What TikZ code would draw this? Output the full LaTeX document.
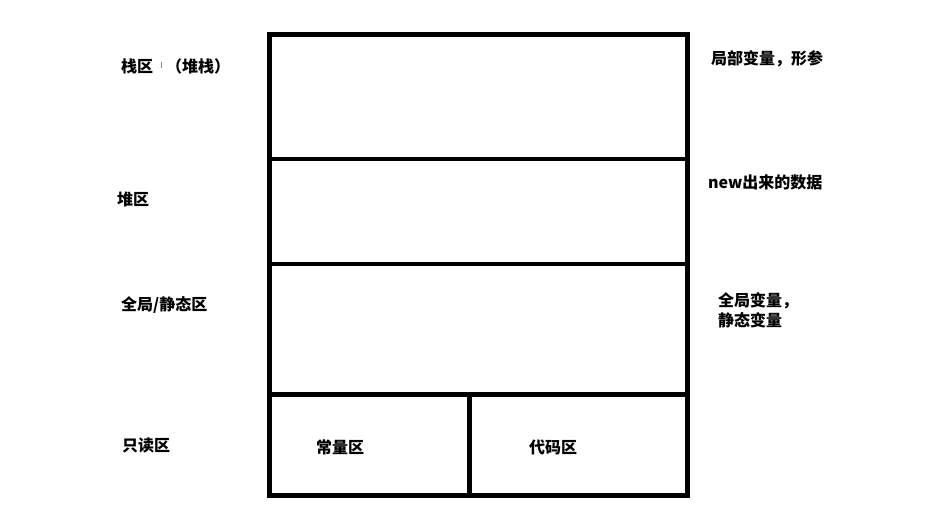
\documentclass[tikz,border=0pt]{standalone}
\usepackage{fontspec}
\setmainfont{Noto Sans CJK SC}
\begin{document}
\begin{tikzpicture}[x=1pt,y=-1pt,
  lbl/.style={inner sep=0pt, anchor=west, font=\fontsize{16}{20.5}\selectfont\bfseries},
  ctr/.style={inner sep=0pt, anchor=center, font=\fontsize{16}{20.5}\selectfont\bfseries},
  wall/.style={line width=4.4pt, line cap=rect}]
\useasboundingbox (0,0) rectangle (926,528);
% frame corners and dividers
\coordinate (tl) at (269.5,34.5);
\coordinate (br) at (687.5,495.5);
\coordinate (l1) at (269.5,159);   \coordinate (r1) at (687.5,159);
\coordinate (l2) at (269.5,264);   \coordinate (r2) at (684.5,264);
\coordinate (l3) at (269.5,394.5); \coordinate (r3) at (687.5,394.5);
\coordinate (dt) at (469.5,394.5); \coordinate (db) at (469.5,497.5);
\draw[wall] (tl) rectangle (br);
\draw[wall] (l1) -- (r1);
\draw[wall] (l2) -- (r2);
\draw[wall] (l3) -- (r3);
\draw[wall, line cap=butt] (dt) -- (db);
% left labels
\node[lbl] (stack) at (121,66) {栈区};
\coordinate (tk1) at (161,62); \coordinate (tk2) at (161,67.5);
\draw[gray, line width=1pt] (tk1) -- (tk2);
\node[lbl] (stackalt) at (166,66) {（堆栈）};
\node[lbl] (heap) at (117,199) {堆区};
\node[lbl] (global) at (121,305) {全局/静态区};
\node[lbl] (ro) at (122,445) {只读区};
% inner labels
\node[ctr] (const) at (340,447) {常量区};
\node[ctr] (code) at (553,447) {代码区};
% right labels
\node[lbl] (rstack) at (711,59) {局部变量，形参};
\node[lbl] (rheap) at (708,182) {new出来的数据};
\node[lbl, align=left] (rglobal) at (718,310.5) {全局变量，\\静态变量};
\end{tikzpicture}
\end{document}
